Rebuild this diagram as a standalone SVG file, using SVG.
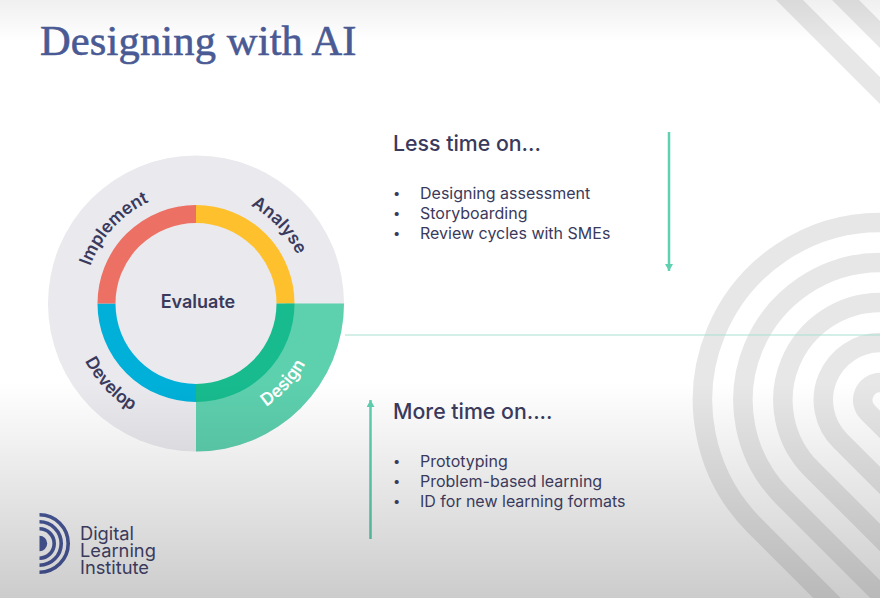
<svg xmlns="http://www.w3.org/2000/svg" width="880" height="598" viewBox="0 0 880 598">
<style>
.t{font-family:"Inter","Liberation Sans",sans-serif;fill:#3a3a5c}
.h{font-size:21.300px;font-weight:500}
.b{font-size:16px}
.d{font-size:13px}
.c{font-size:18px;font-weight:600}
.a{font-size:17.500px;font-weight:600}
.bg{fill:none;stroke:#e8e7e8;stroke-width:19.500}
.ar{stroke:#5fd0b0;stroke-width:2.500;fill:none}
.lg{fill:none;stroke:#4a5a9e;stroke-width:3.600}
</style>
<defs>
<linearGradient id="shade" x1="0" y1="0" x2="0" y2="1">
<stop offset="0" stop-color="#000" stop-opacity=".06"/>
<stop offset=".07" stop-color="#000" stop-opacity="0"/>
<stop offset=".64" stop-color="#000" stop-opacity="0"/>
<stop offset="1" stop-color="#000" stop-opacity=".2"/>
</linearGradient>
<path id="pI" d="M84 303.500A112 112 0 0 1 196 191.500"/>
<path id="pA" d="M196 191.500A112 112 0 0 1 308 303.500"/>
<path id="pDv" d="M71 303.500A125 125 0 0 0 196 428.500"/>
<path id="pDs" d="M196 428.500A125 125 0 0 0 321 303.500"/>
<marker id="ah" markerUnits="userSpaceOnUse" markerWidth="8" markerHeight="8" refX="7" refY="4" orient="auto"><path d="M0 0L7 4L0 8Z" fill="#5fd0b0"/></marker>
</defs>
<rect width="880" height="598" fill="#fff"/>
<g id="backdrop">
<path fill="#e8e7e8" d="M776 0H803L880 77V104ZM832 0H859L880 21V48Z"/>
<path class="bg" d="M880.500 222.500A177.500 177.500 0 0 0 755 526L835 606M880.500 262.500A137.500 137.500 0 0 0 783 497L890 604M880.500 302.500A97.500 97.500 0 0 0 811.500 469L890 547.500M880.500 342.500A57.500 57.500 0 0 0 840 440.500L890 490.500M880.500 382.500A17.500 17.500 0 0 0 868 412.500L890 434.500"/>
</g>
<g id="cycle">
<circle cx="196" cy="303.500" r="148" fill="#e9e9ee"/>
<path d="M285.500 303.500H344A148 148 0 0 1 196 451.500V393A89.500 89.500 0 0 0 285.500 303.500Z" fill="#5dd0ae"/>
<g fill="none" stroke-width="18">
<path d="M196 214A89.500 89.500 0 0 1 285.500 303.500" stroke="#ffc02d"/>
<path d="M285.500 303.500A89.500 89.500 0 0 1 196 393" stroke="#17bb8e"/>
<path d="M196 393A89.500 89.500 0 0 1 106.500 303.500" stroke="#00b0d8"/>
<path d="M106.500 303.500A89.500 89.500 0 0 1 196 214" stroke="#ec7063"/>
</g>
</g>
<g id="connectors">
<path d="M345 335H880" stroke="#a8dfd0" stroke-width="1"/>
<path class="ar" d="M669 132V271" marker-end="url(#ah)"/>
<path class="ar" d="M370.500 539V400" marker-end="url(#ah)"/>
</g>
<g id="logo">
<path class="lg" d="M39.500 514.800A28.700 28.700 0 0 1 39.500 572.200M39.500 521.800A21.700 21.700 0 0 1 39.500 565.200M39.500 528.800A14.700 14.700 0 0 1 39.500 558.200"/>
<path d="M39.500 535.800A7.700 7.700 0 0 1 39.500 551.200Z" fill="#4a5a9e"/>
</g>
<rect id="shade-layer" width="880" height="598" fill="url(#shade)"/>
<text id="title" x="40" y="55" font-family="'Liberation Serif',serif" font-size="42.500" letter-spacing=".15" fill="#4a5a94" stroke="#4a5a94" stroke-width=".6">Designing with AI</text>
<g id="labels">
<text class="t a"><textPath href="#pI" startOffset="47%" text-anchor="middle">Implement</textPath></text>
<text class="t a"><textPath href="#pA" startOffset="52%" text-anchor="middle">Analyse</textPath></text>
<text class="t a"><textPath href="#pDv" startOffset="48%" text-anchor="middle">Develop</textPath></text>
<text class="t a" style="fill:#fff"><textPath href="#pDs" startOffset="53%" text-anchor="middle">Design</textPath></text>
<text class="t c" x="198" y="308" text-anchor="middle">Evaluate</text>
</g>
<g id="less">
<text class="t h" x="393" y="151">Less time on...</text>
<g class="t b"><text class="d" x="393" y="198">•</text><text x="420" y="199">Designing assessment</text>
<text class="d" x="393" y="218">•</text><text x="420" y="219">Storyboarding</text>
<text class="d" x="393" y="238">•</text><text x="420" y="239">Review cycles with SMEs</text></g>
</g>
<g id="more">
<text class="t h" x="393" y="418.500">More time on....</text>
<g class="t b"><text class="d" x="393" y="465.500">•</text><text x="420" y="466.500">Prototyping</text>
<text class="d" x="393" y="485.500">•</text><text x="420" y="486.500">Problem-based learning</text>
<text class="d" x="393" y="505.500">•</text><text x="420" y="506.500">ID for new learning formats</text></g>
</g>
<g id="logotext" class="t" font-size="18.300"><text x="80" y="540">Digital</text><text x="80" y="557">Learning</text><text x="80" y="574">Institute</text></g>
</svg>
